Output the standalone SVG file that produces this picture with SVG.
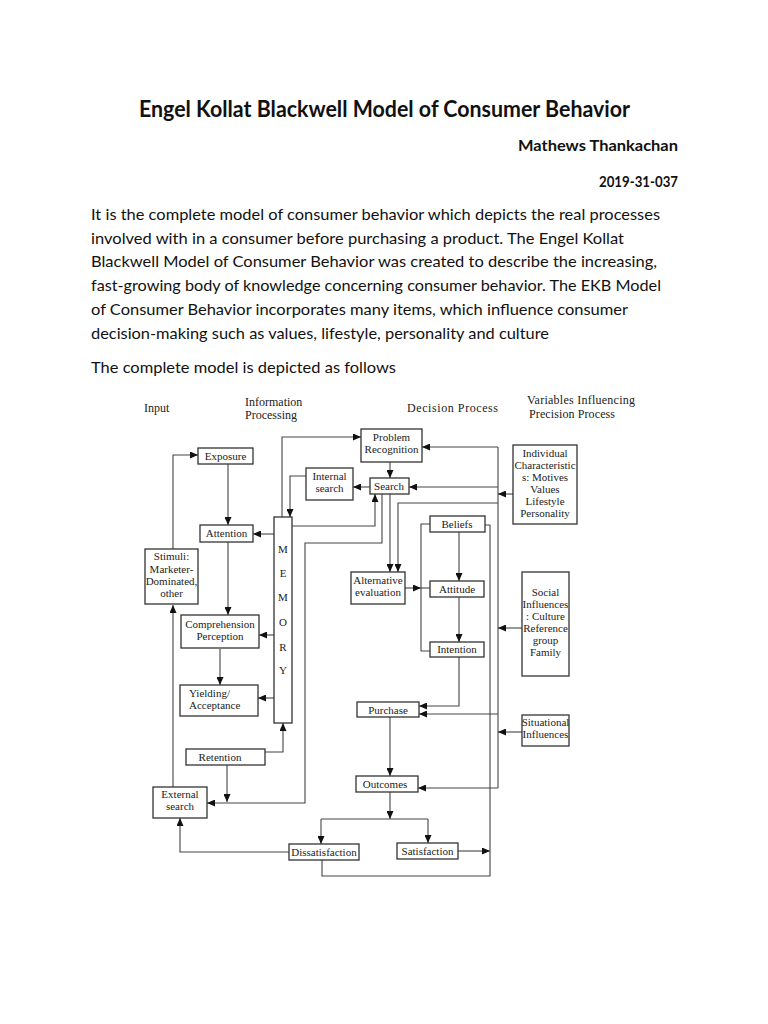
<svg xmlns="http://www.w3.org/2000/svg" width="768" height="1024" viewBox="0 0 768 1024">
<style>
.title{font-family:Lato,"Liberation Sans",sans-serif;font-weight:bold;font-size:22px;fill:#111}
.auth{font-family:Lato,"Liberation Sans",sans-serif;font-weight:bold;font-size:16px;fill:#111}
.para{font-family:Lato,"Liberation Sans",sans-serif;font-size:16px;fill:#111}
.hd{font-family:"Liberation Serif","DejaVu Serif",serif;font-size:12px;fill:#222}
.t{font-family:"Liberation Serif","DejaVu Serif",serif;font-size:11px;fill:#222;text-anchor:middle}
.tl{font-family:"Liberation Serif","DejaVu Serif",serif;font-size:11px;fill:#222}
.box{fill:#fff;stroke:#333;stroke-width:1.3}
.ln{fill:none;stroke:#444;stroke-width:1.1}
.ar{fill:none;stroke:#444;stroke-width:1.1;marker-end:url(#ah)}
</style>
<defs>
<marker id="ah" markerUnits="userSpaceOnUse" markerWidth="8" markerHeight="7" refX="8" refY="3.5" orient="auto">
<path d="M0,0 L8,3.5 L0,7 z" fill="#111"/>
</marker>
</defs>
<rect width="768" height="1024" fill="#fff"/>

<text class="title" x="139" y="117" textLength="491" lengthAdjust="spacingAndGlyphs">Engel Kollat Blackwell Model of Consumer Behavior</text>
<text class="auth" x="678" y="151" text-anchor="end" textLength="160" lengthAdjust="spacingAndGlyphs">Mathews Thankachan</text>
<text class="auth" x="678" y="187" text-anchor="end" textLength="79" lengthAdjust="spacingAndGlyphs">2019-31-037</text>

<g id="paragraph">
<text class="para" x="91" y="220" textLength="569" lengthAdjust="spacingAndGlyphs">It is the complete model of consumer behavior which depicts the real processes</text>
<text class="para" x="91" y="244" textLength="533" lengthAdjust="spacingAndGlyphs">involved with in a consumer before purchasing a product. The Engel Kollat</text>
<text class="para" x="91" y="267" textLength="566" lengthAdjust="spacingAndGlyphs">Blackwell Model of Consumer Behavior was created to describe the increasing,</text>
<text class="para" x="91" y="291" textLength="570" lengthAdjust="spacingAndGlyphs">fast-growing body of knowledge concerning consumer behavior. The EKB Model</text>
<text class="para" x="91" y="315" textLength="537" lengthAdjust="spacingAndGlyphs">of Consumer Behavior incorporates many items, which influence consumer</text>
<text class="para" x="91" y="339" textLength="458" lengthAdjust="spacingAndGlyphs">decision-making such as values, lifestyle, personality and culture</text>
<text class="para" x="91" y="373" textLength="305" lengthAdjust="spacingAndGlyphs">The complete model is depicted as follows</text>
</g>

<g id="headers">
<text class="hd" x="144" y="412">Input</text>
<text class="hd" x="245" y="406">Information</text>
<text class="hd" x="245" y="419">Processing</text>
<text class="hd" x="407" y="412" textLength="91">Decision   Process</text>
<text class="hd" x="527" y="404" textLength="108">Variables Influencing</text>
<text class="hd" x="529" y="418" textLength="86">Precision Process</text>
</g>

<g id="connectors">
<path class="ar" d="M173,549 V455 H198"/>
<path class="ar" d="M173,787 V605"/>
<path class="ar" d="M228,464 V525"/>
<path class="ar" d="M228,542 V615"/>
<path class="ar" d="M220,649 V685"/>
<path class="ar" d="M274,534 H253"/>
<path class="ar" d="M274,635 H259"/>
<path class="ar" d="M274,698 H258"/>
<path class="ar" d="M265,752 H283 V723"/>
<path class="ar" d="M227,765 V802"/>
<path class="ar" d="M382,494 V543 H305 V803 H207"/>
<path class="ar" d="M282,517 V437 H361"/>
<path class="ar" d="M390,462 V478"/>
<path class="ar" d="M370,487 H353"/>
<path class="ar" d="M306,476 H290 V517"/>
<path class="ar" d="M292,526 H375 V494"/>
<path class="ar" d="M390,494 V572"/>
<path class="ar" d="M498,503 H398 V572"/>
<path class="ar" d="M498,447 H422"/>
<path class="ar" d="M498,487 H409"/>
<path class="ln" d="M498,447 V788"/>
<path class="ar" d="M513,494 H498"/>
<path class="ar" d="M522,628 H498"/>
<path class="ar" d="M522,732 H498"/>
<path class="ar" d="M498,714 H419"/>
<path class="ar" d="M498,788 H418"/>
<path class="ar" d="M405,588 H421"/>
<path class="ln" d="M421,588 H430"/>
<path class="ar" d="M459,532 V581"/>
<path class="ar" d="M459,597 V642"/>
<path class="ln" d="M430,524 H421 V651 H430"/>
<path class="ar" d="M459,657 V706 H419"/>
<path class="ar" d="M390,717 V776"/>
<path class="ar" d="M390,792 V819"/>
<path class="ln" d="M321,819 H428"/>
<path class="ar" d="M321,819 V844"/>
<path class="ar" d="M428,819 V843"/>
<path class="ar" d="M458,851 H490"/>
<path class="ln" d="M322,860 V876 H490 V525 H485"/>
<path class="ar" d="M289,852 H180 V818"/>
</g>

<g id="exposure"><rect class="box" x="198" y="448" width="55" height="16"/><text class="t" x="225.5" y="460">Exposure</text></g>
<g id="attention"><rect class="box" x="200" y="525" width="53" height="17"/><text class="t" x="226.5" y="537">Attention</text></g>
<g id="stimuli"><rect class="box" x="145" y="549" width="53" height="55"/>
<text class="t" x="171.5" y="560">Stimuli:</text><text class="t" x="171.5" y="572.5">Marketer-</text><text class="t" x="171.5" y="585">Dominated,</text><text class="t" x="171.5" y="597">other</text></g>
<g id="comprehension"><rect class="box" x="181" y="615" width="78" height="33"/>
<text class="t" x="220" y="628">Comprehension</text><text class="t" x="220" y="640">Perception</text></g>
<g id="yielding"><rect class="box" x="180" y="685" width="78" height="31"/>
<text class="tl" x="189" y="697">Yielding/</text><text class="tl" x="189" y="709">Acceptance</text></g>
<g id="memory"><rect class="box" x="274" y="517" width="18" height="206"/>
<text class="t" x="283" y="553">M</text><text class="t" x="283" y="577">E</text><text class="t" x="283" y="601">M</text><text class="t" x="283" y="626">O</text><text class="t" x="283" y="651">R</text><text class="t" x="283" y="674">Y</text></g>
<g id="retention"><rect class="box" x="186" y="749" width="79" height="16"/><text class="t" x="220" y="761">Retention</text></g>
<g id="external-search"><rect class="box" x="153" y="787" width="54" height="31"/>
<text class="t" x="180" y="798">External</text><text class="t" x="180" y="810">search</text></g>
<g id="problem-recognition"><rect class="box" x="361" y="429" width="61" height="33"/>
<text class="t" x="391.5" y="441">Problem</text><text class="t" x="391.5" y="453">Recognition</text></g>
<g id="internal-search"><rect class="box" x="306" y="468" width="47" height="32"/>
<text class="t" x="329.5" y="480">Internal</text><text class="t" x="329.5" y="492">search</text></g>
<g id="search"><rect class="box" x="370" y="478" width="39" height="16"/><text class="t" x="389" y="490">Search</text></g>
<g id="alternative-evaluation"><rect class="box" x="351" y="572" width="54" height="32"/>
<text class="t" x="378" y="584">Alternative</text><text class="t" x="378" y="596">evaluation</text></g>
<g id="beliefs"><rect class="box" x="430" y="516" width="55" height="16"/><text class="t" x="457" y="528">Beliefs</text></g>
<g id="attitude"><rect class="box" x="430" y="581" width="54" height="16"/><text class="t" x="457" y="593">Attitude</text></g>
<g id="intention"><rect class="box" x="430" y="642" width="54" height="15"/><text class="t" x="457" y="653">Intention</text></g>
<g id="purchase"><rect class="box" x="357" y="702" width="62" height="15"/><text class="t" x="388" y="714">Purchase</text></g>
<g id="outcomes"><rect class="box" x="356" y="776" width="62" height="16"/><text class="t" x="385" y="788">Outcomes</text></g>
<g id="dissatisfaction"><rect class="box" x="289" y="844" width="70" height="16"/><text class="t" x="324" y="856">Dissatisfaction</text></g>
<g id="satisfaction"><rect class="box" x="397" y="843" width="61" height="16"/><text class="t" x="427.5" y="855">Satisfaction</text></g>
<g id="individual-characteristics"><rect class="box" x="513" y="445" width="64" height="79"/>
<text class="t" x="545" y="457">Individual</text><text class="t" x="545" y="469">Characteristic</text><text class="t" x="545" y="481">s: Motives</text><text class="t" x="545" y="493">Values</text><text class="t" x="545" y="505">Lifestyle</text><text class="t" x="545" y="517">Personality</text></g>
<g id="social-influences"><rect class="box" x="522" y="572" width="47" height="104"/>
<text class="t" x="545.5" y="596">Social</text><text class="t" x="545.5" y="608">Influences</text><text class="t" x="545.5" y="620">: Culture</text><text class="t" x="545.5" y="632">Reference</text><text class="t" x="545.5" y="644">group</text><text class="t" x="545.5" y="656">Family</text></g>
<g id="situational-influences"><rect class="box" x="522" y="715" width="47" height="31"/>
<text class="t" x="545.5" y="726">Situational</text><text class="t" x="545.5" y="738">Influences</text></g>
</svg>
